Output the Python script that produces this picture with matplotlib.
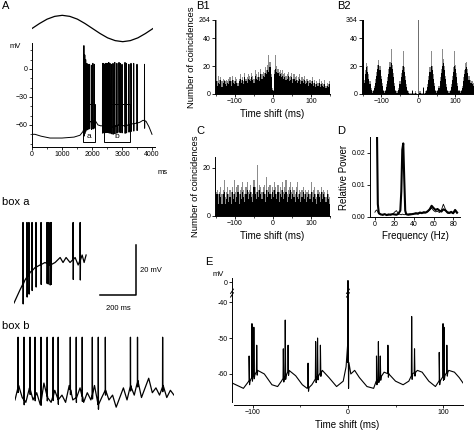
import numpy as np
import matplotlib
matplotlib.use("Agg")
import matplotlib.pyplot as plt
from matplotlib.patches import Rectangle

W, H = 474, 432
plt.rcParams['font.family'] = ['Liberation Sans', 'DejaVu Sans']
fig = plt.figure(figsize=(W/100, H/100), dpi=100)

def axpx(x0, y0, x1, y1):
    return fig.add_axes([x0/W, 1-y1/H, (x1-x0)/W, (y1-y0)/H])

# ---------------- data ----------------
sine_vals = [0, .38, .71, .92, 1, .92, .71, .38, 0, -.38, -.71, -.92, -1, -.92, -.71, -.38, 0]
sine_t = [0, 250, 500, 750, 1000, 1250, 1500, 1750, 2000, 2250, 2500, 2750, 3000, 3250, 3500, 3750, 4000]

A_base_t = [0, 100, 300, 600, 1000, 1400, 1600, 1700, 1750, 1800, 1900, 2000, 2100, 2200, 2300, 2500, 2700, 2900, 3100, 3300, 3500, 3600, 3700, 3800, 3900, 4000]
A_base_v = [-70, -70, -72, -74, -74, -73, -71, -67, -62, -58, -56, -57, -55, -60, -61, -60, -62, -60, -61, -59, -58, -57, -55, -56, -62, -70]
A_spk_t = [1730, 1760, 1790, 1830, 1870, 1920, 1980, 2030, 2080, 2350, 2390, 2420, 2450, 2480, 2510, 2560, 2600, 2650,
           2700, 2760, 2830, 2900, 2950, 3000, 3100, 3150, 3230, 3300, 3390, 3500, 3750]
A_spk_v = [25, 15, 10, 6, 5, 5, 4, 6, 5, 6, 6, 5, 6, 6, 6, 7, 6, 5, 6, 7, 6, 7, 6, 5, 7, 6, 5, 6, 6, 5, 5]

a_base_t = [0, 33, 61, 89, 117, 144, 172, 200, 228, 256, 272, 289, 311, 339, 356, 378, 389, 400]
a_base_v = [-69.2, -64, -60, -57, -55, -54, -53, -54, -53, -51, -53, -51, -53, -51, -54, -50, -53, -50]
a_spk_t = [50, 72, 83, 100, 122, 150, 183, 189, 200, 206, 328, 367]

b_base_v = [-63, -57, -62, -64, -58, -63, -60, -65, -56, -62, -64, -59, -63, -61, -64, -57, -63, -62, -58, -64, -60, -63, -57,
            -65, -62, -59, -63, -61, -66, -62, -58, -63, -57, -61, -55, -62, -58, -54, -60, -58, -61, -57, -62, -59, -61]
b_spk_t = [17, 50, 83, 111, 144, 178, 211, 239, 306, 339, 372, 428, 461, 500, 639, 678, 817]

hist_centers = np.arange(-148.5, 150, 3)
B1_black = [9, 6, 8, 7, 10, 5, 8, 9, 7, 6, 8, 7, 9, 6, 10, 8, 7, 9, 8, 6, 9, 11, 8, 10, 7, 12, 9, 8, 11, 10,
            9, 12, 10, 8, 13, 11, 10, 12, 9, 14, 11, 13, 12, 15, 14, 17, 16, 19, 12, 3,
            2, 14, 18, 16, 15, 13, 14, 12, 13, 11, 12, 10, 11, 13, 9, 10, 12, 8, 11, 9, 10, 8, 9, 11, 7, 9, 8, 10, 7, 8,
            9, 6, 8, 7, 9, 6, 8, 5, 7, 6, 8, 5, 7, 6, 5, 7, 4, 6, 5, 7]
B1_gray = [53, 9, 13, 10, 12, 9, 11, 10, 9, 10, 9, 11, 12, 9, 13, 10, 9, 12, 11, 8, 11, 14, 10, 12, 9, 15, 11, 12, 14, 13,
           11, 15, 13, 11, 17, 14, 12, 16, 12, 18, 14, 16, 15, 19, 17, 21, 28, 23, 14, 4,
           3, 17, 28, 20, 18, 16, 17, 15, 17, 14, 15, 13, 14, 16, 12, 13, 15, 11, 14, 12, 13, 10, 12, 14, 10, 12, 11, 13, 9, 11,
           11, 9, 10, 9, 12, 8, 10, 7, 9, 8, 11, 7, 9, 8, 7, 10, 6, 8, 7, 9]
B2_black = [53, 8, 14, 19, 16, 11, 7, 3, 1, 2, 4, 8, 13, 18, 21, 17, 11, 6, 2, 1, 2, 5, 9, 14, 19, 22, 18, 12, 6, 2,
            1, 1, 3, 7, 12, 17, 20, 16, 10, 5, 2, 1, 0, 0, 2, 0, 0, 1, 0, 0,
            0, 1, 0, 0, 4, 0, 1, 2, 5, 10, 16, 20, 17, 11, 6, 2, 1, 2, 4, 9, 15, 20, 22, 17, 11, 5, 2, 1, 2, 5,
            10, 16, 20, 18, 12, 6, 2, 1, 2, 4, 9, 14, 18, 19, 15, 10, 8, 8, 7, 6]
B2_gray = [53, 10, 17, 22, 20, 14, 9, 4, 2, 3, 6, 11, 16, 21, 24, 20, 13, 8, 3, 2, 3, 7, 12, 18, 23, 32, 21, 15, 8, 3,
           2, 2, 4, 9, 15, 20, 31, 19, 13, 7, 3, 2, 1, 1, 3, 1, 1, 2, 1, 0,
           0, 2, 1, 1, 5, 1, 2, 3, 7, 13, 19, 31, 20, 14, 8, 3, 2, 3, 6, 12, 18, 32, 25, 20, 13, 7, 3, 2, 3, 7,
           13, 19, 31, 21, 15, 8, 3, 2, 3, 6, 12, 17, 22, 23, 18, 13, 10, 9, 9, 8]
C_black = [9, 9, 5, 9, 8, 5, 9, 10, 5, 7, 9, 6, 8, 5, 10, 7, 9, 6, 8, 10, 5, 9, 7, 10, 8, 6, 9, 11, 7, 9,
           10, 8, 6, 12, 9, 7, 10, 8, 11, 9, 7, 10, 9, 6, 11, 8, 10, 9, 7, 10,
           8, 11, 9, 7, 10, 6, 9, 8, 11, 7, 9, 10, 6, 8, 9, 11, 7, 9, 8, 6, 10, 8, 7, 9, 6, 8, 10, 7, 9, 6,
           8, 9, 7, 10, 6, 8, 9, 7, 5, 9, 8, 6, 10, 7, 9, 8, 6, 9, 7, 5]
C_gray = [10, 11, 9, 10, 12, 9, 11, 15, 8, 10, 12, 9, 11, 10, 12, 9, 15, 10, 12, 13, 9, 11, 12, 14, 11, 9, 12, 14, 10, 11,
          13, 10, 9, 15, 12, 10, 21, 11, 13, 12, 10, 12, 13, 9, 16, 11, 12, 13, 9, 12,
          11, 14, 12, 9, 13, 10, 12, 11, 14, 10, 12, 15, 9, 11, 12, 14, 10, 12, 11, 9, 12, 14, 9, 11, 10, 11, 12, 9, 11, 10,
          10, 11, 9, 14, 10, 11, 12, 9, 8, 11, 10, 9, 12, 10, 11, 10, 8, 11, 9, 8]

D_freq = [0, 1, 2, 3, 4, 6, 8, 10, 12, 14, 16, 18, 20, 22, 24, 26, 27, 28, 29, 30, 31, 32, 34, 36, 38, 40, 42, 44, 46,
          48, 50, 52, 54, 56, 58, 60, 62, 64, 66, 68, 70, 72, 74, 76, 78, 80, 82, 84]
D_thick = [0.03, 0.03, 0.03, 0.004, 0.0012, 0.0008, 0.0007, 0.0009, 0.0006, 0.0008, 0.0007, 0.0009, 0.0008, 0.0007, 0.001,
           0.002, 0.008, 0.021, 0.023, 0.012, 0.002, 0.0009, 0.0007, 0.0008, 0.0009, 0.001, 0.0012, 0.001, 0.0014,
           0.0012, 0.0015, 0.0014, 0.0018, 0.0024, 0.0035, 0.0028, 0.0022, 0.0025, 0.002, 0.0017, 0.0024, 0.0021,
           0.0015, 0.0013, 0.0016, 0.0012, 0.0022, 0.0014]
D_thin = [0.0015, 0.002, 0.0022, 0.0016, 0.001, 0.0009, 0.0006, 0.0008, 0.0007, 0.0006, 0.0009, 0.0008, 0.0015, 0.002, 0.001,
          0.0008, 0.0007, 0.0009, 0.0008, 0.0007, 0.0008, 0.0007, 0.0009, 0.001, 0.0008, 0.0011, 0.0009, 0.0013, 0.0011,
          0.0015, 0.0012, 0.0013, 0.0016, 0.0022, 0.0028, 0.002, 0.0016, 0.0018, 0.0014, 0.0022, 0.004, 0.0025,
          0.0012, 0.0011, 0.0014, 0.001, 0.0018, 0.0011]

E_base_t = [-122, -110, -104, -95, -88, -80, -74, -70, -62, -55, -48, -43, -38, -33, -27, -20, -12, -5, -2, -0.4, 0.6, 3, 7,
            12, 20, 27, 30, 38, 43, 50, 58, 64, 68, 73, 78, 85, 92, 96, 106, 112, 117, 121]
E_base_v = [-62.5, -64, -62, -59, -60, -63, -63.5, -62, -59, -60.5, -63, -64, -63, -61, -59, -61, -63.5, -62, -58, -52, -64,
            -60, -59, -61, -63.5, -64, -62, -59.5, -60, -62, -63, -62, -60, -59, -59.5, -62, -63.5, -62, -59, -59.5, -61, -62.5]
E_spk_t = [-104, -101, -99, -96, -68, -66, -63, -42, -34, -32, -29, 0, 30, 32, 34, 42, 67, 70, 96, 100, 101, 104]
E_spk_v = [-55, -46, -47, -52, -53, -45, -52, -57, -51, -50, -52, -34, -55, -51, -55, -52, -44, -53, -54, -46, -47, -52]

LW = 0.9
TS = 5

def trace(bt, bv, st, sv, w, drop):
    t = list(bt); v = list(bv)
    for s, p in zip(st, sv):
        b = float(np.interp(s, bt, bv))
        t += [s - w*0.4, s, s + w*0.6, s + w*1.2]
        v += [b, p, b - drop, b]
    o = np.argsort(t, kind='stable')
    return np.array(t)[o], np.array(v)[o]

def style(ax):
    for s in ['top', 'right']:
        ax.spines[s].set_visible(False)
    ax.tick_params(labelsize=TS, length=2, width=0.6, pad=1)
    for s in ['left', 'bottom']:
        ax.spines[s].set_linewidth(0.7)

# ---------- A ----------
axs = axpx(32, 14, 153, 43)
axs.plot(sine_t, sine_vals, color='k', lw=LW)
axs.set_xlim(0, 4000); axs.set_ylim(-1.1, 1.1); axs.axis('off')

axA = axpx(32, 43, 155, 147)
t, v = trace(A_base_t, A_base_v, A_spk_t, A_spk_v, 6, 8)
axA.plot(t, v, color='k', lw=0.7)
axA.set_xlim(0, 4100); axA.set_ylim(-83.6, 27.8)
style(axA)
axA.set_xticks([0, 1000, 2000, 3000, 4000]); axA.set_yticks([0, -30, -60])
axA.set_xticks(np.arange(0, 4001, 500), minor=True); axA.set_yticks(np.arange(-80, 21, 10), minor=True)
axA.tick_params(which='minor', length=1.2, width=0.5)
axA.add_patch(Rectangle((1700, -78), 400, 40.5, fill=False, lw=0.7))
axA.add_patch(Rectangle((2400, -78), 870, 40.5, fill=False, lw=0.7))
axA.text(1900, -72, 'a', ha='center', va='center', fontsize=6)
axA.text(2835, -72, 'b', ha='center', va='center', fontsize=6)
fig.text(10/W, 1-47/H, 'mV', fontsize=5.5, va='center')
fig.text(158/W, 1-173/H, 'ms', fontsize=5.5, va='center')
fig.text(2/W, 1-6/H, 'A', fontsize=8, va='center')

# ---------- box a ----------
axa = axpx(14, 215, 151, 310)
t, v = trace(a_base_t, a_base_v, a_spk_t, [-37]*len(a_spk_t), 1.5, 8)
axa.plot(t, v, color='k', lw=LW)
axa.set_xlim(0, 760); axa.set_ylim(-72, -34); axa.axis('off')
axa.plot([478, 678, 678], [-66, -66, -46], color='k', lw=1.1)
axa.text(700, -56, '20 mV', fontsize=5.5, va='center')
axa.text(578, -71.5, '200 ms', fontsize=5.5, ha='center', va='center', clip_on=False)
fig.text(2/W, 1-202/H, 'box a', fontsize=8, va='center')

# ---------- box b ----------
axb = axpx(15, 330, 174, 412)
b_t = list(np.arange(0, 900, 20))
t, v = trace(b_t, b_base_v, b_spk_t, [-37]*len(b_spk_t), 1.5, 2)
axb.plot(t, v, color='k', lw=LW)
axb.set_xlim(0, 880); axb.set_ylim(-68, -34); axb.axis('off')
fig.text(2/W, 1-326/H, 'box b', fontsize=8, va='center')

# ---------- B1, B2, C ----------
def hist_panel(box, black, gray, ylim, yt, ytl, center=None):
    ax = axpx(*box)
    ax.bar(hist_centers, gray, width=3, color='#8c8c8c', lw=0)
    ax.bar(hist_centers, black, width=3, color='k', lw=0)
    if center is not None:
        ax.bar([0], [center], width=1.2, color='#6f6f6f', lw=0)
    ax.set_xlim(-152, 150); ax.set_ylim(*ylim)
    style(ax)
    ax.set_xticks([-100, 0, 100]); ax.set_yticks(yt); ax.set_yticklabels(ytl)
    ax.set_xticks([-150, -50, 50, 150], minor=True)
    ax.tick_params(which='minor', length=1.2, width=0.5)
    return ax

b1 = hist_panel((215, 20, 330, 94), B1_black, B1_gray, (0, 53), [0, 20, 40, 53], ['0', '20', '40', '264'], 53)
b1.set_xlabel('Time shift (ms)', fontsize=7, labelpad=3)
b1.set_ylabel('Number of coincidences', fontsize=6.8, labelpad=2)
b2 = hist_panel((362, 20, 474, 94), B2_black, B2_gray, (0, 53), [0, 20, 40, 53], ['0', '20', '40', '364'], 53)
c = hist_panel((215, 157, 330, 216), C_black, C_gray, (0, 24.5), [0, 20], ['0', '20'])
c.set_xlabel('Time shift (ms)', fontsize=7, labelpad=3)
c.set_ylabel('Number of coincidences', fontsize=6.8, labelpad=2)
fig.text(196/W, 1-6/H, 'B1', fontsize=8, va='center')
fig.text(337/W, 1-6/H, 'B2', fontsize=8, va='center')
fig.text(196/W, 1-131/H, 'C', fontsize=8, va='center')

# ---------- D ----------
axD = axpx(370, 137, 460, 217)
axD.plot(D_freq, D_thin, color='k', lw=0.6)
axD.plot(D_freq, D_thick, color='k', lw=1.5)
axD.set_xlim(-5, 87); axD.set_ylim(0, 0.025)
style(axD)
axD.set_xticks([0, 20, 40, 60, 80]); axD.set_yticks([0, 0.01, 0.02])
axD.set_yticklabels(['0.00', '0.01', '0.02'])
axD.set_xlabel('Frequency (Hz)', fontsize=7, labelpad=2)
axD.set_ylabel('Relative Power', fontsize=7, labelpad=2)
fig.text(337/W, 1-131/H, 'D', fontsize=8, va='center')

# ---------- E ----------
axE = axpx(232, 278, 463, 402)
t, v = trace(E_base_t, E_base_v, E_spk_t, E_spk_v, 0.8, 1)
axE.plot(t, v, color='k', lw=0.8)
axE.set_xlim(-122, 121); axE.set_ylim(-67.8, -33.3)
style(axE)
axE.spines['bottom'].set_position(('outward', 2))
axE.spines['bottom'].set_bounds(-120, 121)
axE.set_xticks([-100, 0, 100]); axE.set_yticks([-34.5, -40, -50, -60])
axE.set_yticklabels(['0', '-40', '-50', '-60'])
axE.set_xticks([-50, 50], minor=True)
axE.tick_params(which='minor', length=1.2, width=0.5)
for x0 in [-122, 0]:
    for dy in [0, 1.0]:
        axE.plot([x0 - 1.5, x0 + 1.5], [-38 + dy - 0.6, -38 + dy + 0.6], color='k', lw=0.7, clip_on=False)
axE.set_xlabel('Time shift (ms)', fontsize=7, labelpad=3)
fig.text(213/W, 1-274/H, 'mV', fontsize=5.5, va='center')
fig.text(205/W, 1-262/H, 'E', fontsize=8, va='center')

fig.savefig('out.png', dpi=100)
